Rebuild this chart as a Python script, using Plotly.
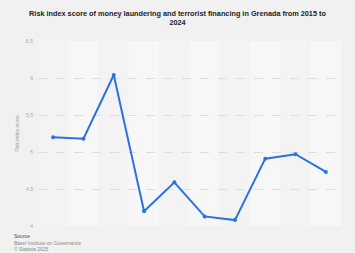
import plotly.graph_objects as go

years = [2015, 2016, 2017, 2018, 2019, 2020, 2021, 2022, 2023, 2024]
scores = [5.20, 5.18, 6.04, 4.20, 4.59, 4.13, 4.08, 4.91, 4.97, 4.73]
y_ticks = [4, 4.5, 5, 5.5, 6, 6.5]
y_tick_labels = ["4", "4.5", "5", "5.5", "6", "6.5"]

title_text = ("Risk index score of money laundering and terrorist financing in Grenada from 2015 to<br>2024")
font_family = "Liberation Sans, Arial, sans-serif"

plot_left, plot_right = 38, 341
plot_top, plot_bottom = 41, 226


def px_to_paper_x(px):
    return (px - plot_left) / (plot_right - plot_left)


def px_to_paper_y(py):
    return (plot_bottom - py) / (plot_bottom - plot_top)


fig = go.Figure()

shapes = []
for i, yr in enumerate(years):
    shapes.append(dict(
        type="rect", xref="x", yref="paper",
        x0=yr - 0.5, x1=yr + 0.5, y0=0, y1=1,
        fillcolor="#f7f7f7" if i % 2 == 1 else "#f3f3f3",
        line=dict(width=0), layer="below",
    ))

fig.add_trace(go.Scatter(
    x=years, y=scores, mode="lines+markers",
    line=dict(color="#2a72de", width=2),
    marker=dict(color="#2a72de", size=4),
    hoverinfo="x+y",
))

source_lines = [("Source", "#444444", 236),
                ("Basel Institute on Governance", "#888888", 243),
                ("© Statista 2025", "#888888", 249)]

fig.update_layout(
    width=355, height=253,
    margin=dict(l=plot_left, r=355 - plot_right, t=plot_top, b=253 - plot_bottom),
    paper_bgcolor="#f1f1f1",
    plot_bgcolor="rgba(0,0,0,0)",
    showlegend=False,
    shapes=shapes,
    font=dict(family=font_family, color="#999999", size=5),
    title=dict(
        text="<b>" + title_text + "</b>",
        x=0.5, xref="container", xanchor="center",
        y=1 - 16 / 253, yref="container", yanchor="top",
        font=dict(family=font_family, size=7.3, color="#222222"),
    ),
    xaxis=dict(
        range=[years[0] - 0.5, years[-1] + 0.5],
        showticklabels=False, showgrid=False, zeroline=False,
        showline=False, ticks="",
    ),
    yaxis=dict(
        range=[y_ticks[0], y_ticks[-1]],
        tickvals=y_ticks, ticktext=y_tick_labels,
        showgrid=True, gridcolor="#dddddd", gridwidth=1, griddash="dash",
        zeroline=False, showline=False, ticks="",
        tickfont=dict(size=5, color="#aaaaaa"),
        ticklabelstandoff=4,
        title=dict(text="Risk index score", font=dict(size=5, color="#999999"), standoff=6),
    ),
    annotations=[
        dict(text=t, x=px_to_paper_x(12), y=px_to_paper_y(py), xref="paper", yref="paper",
             showarrow=False, xanchor="left", yanchor="middle",
             font=dict(size=5, color=c))
        for t, c, py in source_lines
    ],
)

fig.write_html("out.html")
